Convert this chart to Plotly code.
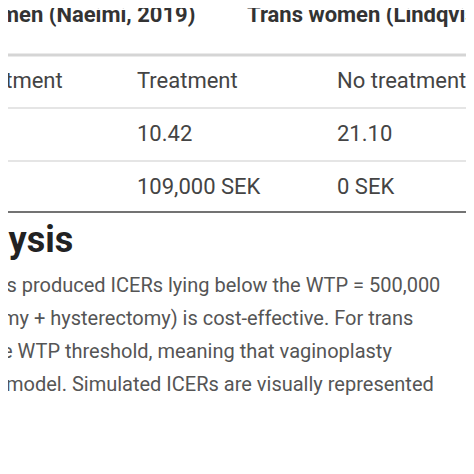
import plotly.graph_objects as go

# table content (cropped document view)
header_texts = ["men (Naeimi, 2019)", "Trans women (Lindqvist"]
header_x = [-2, 245]
col_x = [-40, 135, 335]
row_labels = ["Treatment", "", ""]
treatment_vals = ["Treatment", "10.42", "109,000 SEK"]
no_treatment_vals = ["No treatment", "21.10", "0 SEK"]
row_y = [80, 134, 186]
heading = "Analysis"
body_lines = [
    "ons produced ICERs lying below the WTP = 500,000",
    "my + hysterectomy) is cost-effective. For trans",
    "e WTP threshold, meaning that vaginoplasty",
    "model. Simulated ICERs are visually represented",
]
body_y = [285, 318, 351, 384]
body_x = [-18, 0, 0, 4]

# the page has an 8px body margin; screen px -> paper coords
W = 490
OFF = 8


def px(x):
    return (x - OFF) / W


def py(y):
    return 1 - (y - OFF) / W


fig = go.Figure()
ann = []
for t, x in zip(header_texts, header_x):
    ann.append(dict(x=px(x), y=py(15), text="<b>%s</b>" % t,
                    font=dict(size=22, color="#333333", family="Roboto")))
for i, y in enumerate(row_y):
    for x, t in zip(col_x, [row_labels[i], treatment_vals[i], no_treatment_vals[i]]):
        if t:
            ann.append(dict(x=px(x), y=py(y), text=t,
                            font=dict(size=22, color="#444444", family="Roboto")))
ann.append(dict(x=px(-66), y=py(240), text="<b>%s</b>" % heading,
                font=dict(size=36, color="#222222", family="Roboto")))
for t, x, y in zip(body_lines, body_x, body_y):
    ann.append(dict(x=px(x), y=py(y), text=t,
                    font=dict(size=20, color="#555555", family="Roboto")))
for a in ann:
    a.update(xref="paper", yref="paper", showarrow=False,
             xanchor="left", yanchor="middle")

line_y = [55, 108, 161, 212]
line_style = [("#d5d5d5", 3), ("#dddddd", 1.5), ("#dddddd", 1.5), ("#444444", 1.5)]
shapes = []
for y, (c, w) in zip(line_y, line_style):
    shapes.append(dict(type="line", xref="paper", yref="paper",
                       x0=0, x1=1, y0=py(y), y1=py(y), line=dict(color=c, width=w)))

fig.update_layout(
    width=W, height=W, margin=dict(l=0, r=0, t=0, b=0),
    paper_bgcolor="white", plot_bgcolor="white",
    xaxis=dict(visible=False), yaxis=dict(visible=False),
    annotations=ann, shapes=shapes, showlegend=False,
)
fig.write_html("out.html")
